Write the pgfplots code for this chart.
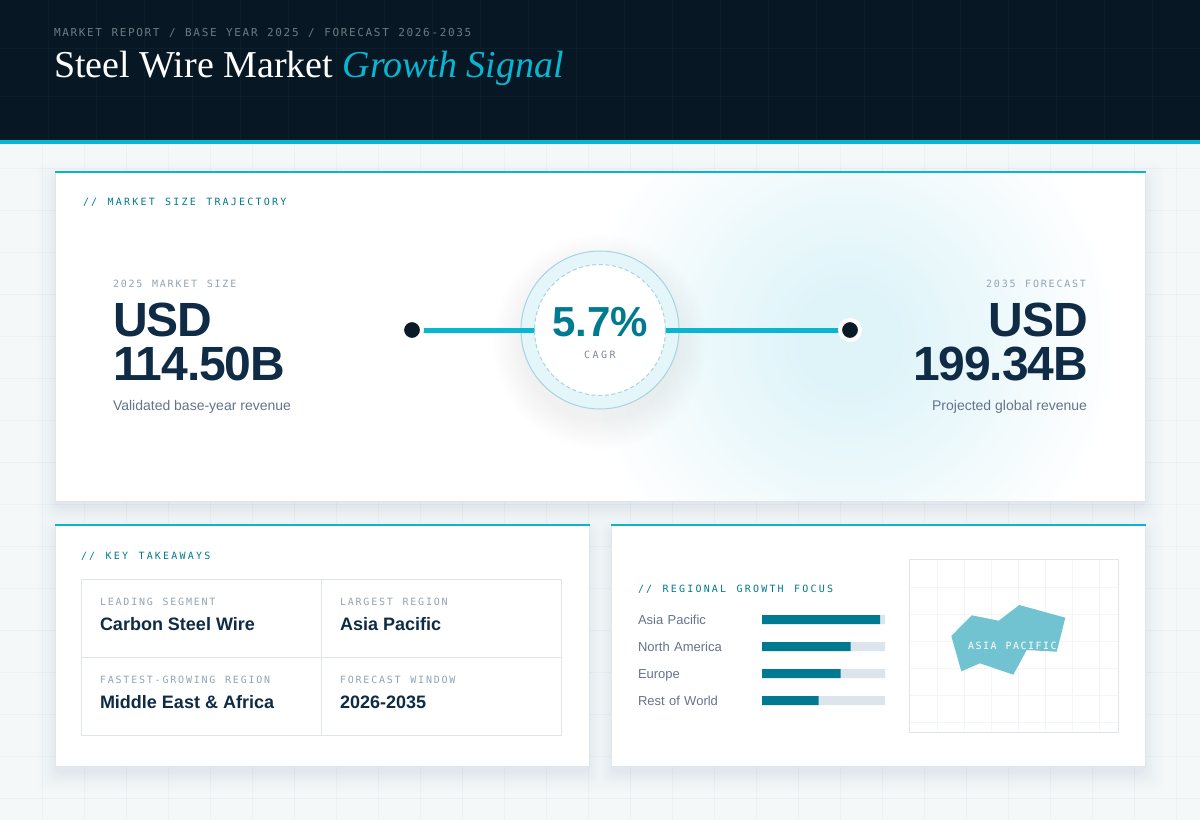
\documentclass[border=0pt]{standalone}
\usepackage{pgfplots}
\pgfplotsset{compat=1.18}
\usepackage{fontspec}
\setmainfont{Liberation Sans}
\newfontfamily\serifx{Liberation Serif}
\newfontfamily\monox{DejaVu Sans Mono}
\definecolor{pagebg}{HTML}{F4F8F9}
\definecolor{headbg}{HTML}{071824}
\definecolor{headgrid}{HTML}{0B1E2B}
\definecolor{cy}{HTML}{08B6D2}
\definecolor{teal}{HTML}{007A90}
\definecolor{navy}{HTML}{0F2B45}
\definecolor{ink}{HTML}{0A1A28}
\definecolor{slate}{HTML}{64748B}
\definecolor{mut}{HTML}{94A3B3}
\definecolor{bord}{HTML}{E0E5E9}
\definecolor{ringc}{HTML}{A8D3DF}
\definecolor{ringf}{HTML}{E4F6FA}
\definecolor{track}{HTML}{DCE5EB}
\definecolor{mapc}{HTML}{72C3D1}
\definecolor{mapgrid}{HTML}{F3F5F7}
\definecolor{shadc}{HTML}{0A2A40}
\definecolor{glowc}{HTML}{DFF4F9}
\definecolor{cardsh}{HTML}{E2E8ED}
% letter spacing in % of the size; ~ is a word space of the same tracking
\newcommand\lab[3][7.5pt]{\monox\fontsize{#1}{9pt}\selectfont\addfontfeature{LetterSpace=#2}\def~{\kern\dimexpr.602em+#2em/50\relax}#3}
\newcommand\bigval[1]{\fontsize{36pt}{36pt}\selectfont\bfseries\addfontfeature{LetterSpace=-2.3}#1}
\begin{document}
\begin{tikzpicture}[x=.75pt,y=-.75pt,every node/.style={inner sep=0pt,outer sep=0pt}]
\path[use as bounding box] (0,0) rectangle (1200,820);
% page
\fill[pagebg] (0,0) rectangle (1200,820);
% card shadows, opaque, outer to inner
\foreach \i in {11,...,0}{
  \pgfmathsetmacro\p{100*(1-\i/12)^2}
  \foreach \a/\b/\c/\d in {55/172/1145/501,55/524/589/766,611/524/1145/766}{
    \fill[cardsh!\p!pagebg,rounded corners=6pt] ({\a-\i*2},{\b+8-\i*2}) rectangle ({\c+\i*2},{\d+8+\i*2});
  }
}
\foreach \v in {42,84,...,1198} \draw[shadc,opacity=.03,line width=.75pt] (\v+.5,144) -- (\v+.5,820);
\foreach \v in {168,210,...,818} \draw[shadc,opacity=.03,line width=.75pt] (0,\v+.5) -- (1200,\v+.5);
% header
\fill[headbg] (0,0) rectangle (1200,140);
\foreach \v in {48,96,...,1198} \draw[headgrid,line width=.75pt] (\v+.5,0) -- (\v+.5,140);
\foreach \v in {48,96} \draw[headgrid,line width=.75pt] (0,\v+.5) -- (1200,\v+.5);
\fill[cy] (0,140) rectangle (1200,144);
\node[anchor=base west,text=white!42!headbg] at (54,37) {\lab[8.25pt]{15}{\def~{\kern.868em\relax}MARKET~REPORT~/~BASE~YEAR~2025~/~FORECAST~2026-2035}};
\node[anchor=base west,text=white] at (54,78) {\serifx\fontsize{28.5pt}{32pt}\selectfont Steel Wire Market \textcolor{cy}{\itshape Growth Signal}};
% cards
\foreach \a/\b/\c/\d in {55/172/1145/501,55/524/589/766,611/524/1145/766}{
  \fill[white] (\a,\b) rectangle (\c,\d);
  \draw[bord,line width=.75pt] (\a,\b) rectangle (\c,\d);
}
% glow
\begin{scope}
\clip (55.5,174) rectangle (1144.5,500.5);
\foreach \i in {45,...,1}{
  \pgfmathsetmacro\t{\i/45}
  \pgfmathsetmacro\p{min(100,100*(1-\t)/.8)}
  \pgfmathsetmacro\r{202.5*\t}
  \fill[glowc!\p!white] (850,340) circle[radius=\r pt];
}
\end{scope}
\foreach \a/\c/\b in {55/1145/172,55/589/524,611/1145/524}{
  \fill[cy] (\a-.5,\b-.5) rectangle (\c+.5,\b+1.5);
}
\node[anchor=base west,text=teal] at (83,205) {\lab{22}{//~MARKET~SIZE~TRAJECTORY}};
\node[anchor=base west,text=mut] at (113,287) {\lab{18}{2025~MARKET~SIZE}};
\node[anchor=base east,text=mut] at (1086,287) {\lab{18}{2035~FORECAST}};
\node[anchor=base west,text=navy] at (113,336) {\bigval{USD}};
\node[anchor=base west,text=navy] at (113,380) {\bigval{114.50B}};
\node[anchor=base east,text=navy] at (1088,336) {\bigval{USD}};
\node[anchor=base east,text=navy] at (1088,380) {\bigval{199.34B}};
\node[anchor=base west,text=slate] at (113,410) {\fontsize{10.5pt}{12pt}\selectfont Validated base-year revenue};
\node[anchor=base east,text=slate] at (1087,410) {\fontsize{10.5pt}{12pt}\selectfont Projected global revenue};
% ring with shadow
\foreach \i in {13,...,0}{\fill[shadc,opacity=.005] (600,342) circle[radius={(79+\i*2.2)*.75pt}];}
\fill[ringf] (600,330) circle[radius=59.25pt];
\draw[ringc,line width=.75pt] (600,330) circle[radius=59.25pt];
% takeaways
\node[anchor=base west,text=teal] at (81,559) {\lab{22}{//~KEY~TAKEAWAYS}};
\draw[bord,line width=.75pt] (81.5,579.5) rectangle (561.5,735.5);
\draw[bord,line width=.75pt] (321.5,579.5) -- (321.5,735.5);
\draw[bord,line width=.75pt] (81.5,657.5) -- (561.5,657.5);
\node[anchor=base west,text=mut] at (100,605) {\lab{18}{LEADING~SEGMENT}};
\node[anchor=base west,text=mut] at (340,605) {\lab{18}{LARGEST~REGION}};
\node[anchor=base west,text=mut] at (100,683) {\lab{18}{FASTEST-GROWING~REGION}};
\node[anchor=base west,text=mut] at (340,683) {\lab{18}{FORECAST~WINDOW}};
\node[anchor=base west,text=navy] at (100,630) {\fontsize{13.5pt}{16pt}\selectfont\bfseries Carbon Steel Wire};
\node[anchor=base west,text=navy] at (340,630) {\fontsize{13.5pt}{16pt}\selectfont\bfseries Asia Pacific};
\node[anchor=base west,text=navy] at (100,708) {\fontsize{13.5pt}{16pt}\selectfont\bfseries Middle East \& Africa};
\node[anchor=base west,text=navy] at (340,708) {\fontsize{13.5pt}{16pt}\selectfont\bfseries 2026-2035};
% map frame
\node[anchor=base west,text=teal] at (638,592) {\lab{22}{//~REGIONAL~GROWTH~FOCUS}};
\fill[white] (909.5,559.5) rectangle (1118.5,732.5);
\foreach \v in {937,964,...,1100} \draw[mapgrid,line width=.75pt] (\v+.5,560) -- (\v+.5,732);
\foreach \v in {587,614,...,723} \draw[mapgrid,line width=.75pt] (910,\v+.5) -- (1118,\v+.5);
\draw[bord,line width=.75pt] (909.5,559.5) rectangle (1118.5,732.5);
% axis in page pixels: trajectory line and map area
\begin{axis}[at={(0pt,-615pt)},anchor=south west,width=900pt,height=615pt,scale only axis,
  xmin=0,xmax=1200,ymin=0,ymax=820,y dir=reverse,hide axis,clip=false]
\addplot[cy,line width=3.75pt,mark=*,mark size=7.5pt,
  mark options={solid,draw=white,fill=ink,line width=3pt}] coordinates {(412,330) (850,330)};
\addplot[draw=none,fill=mapc] coordinates {(951.3,636) (971.7,615.3) (998.7,620.7) (1019.3,605) (1065.3,617.7) (1056.7,651.7) (1026.7,650) (1013.3,674.7) (980,663.3) (961.3,671.3)} --cycle;
\end{axis}
\node[anchor=base west,text=white] at (968,649) {\lab{15}{ASIA~PACIFIC}};
% ring inner
\fill[white] (600,330) circle[radius=49.1pt];
\draw[ringc,line width=.75pt,dash pattern=on 3pt off 2pt] (600,330) circle[radius=49.1pt];
\node[anchor=base west,text=teal] at (552,336) {\fontsize{31.5pt}{32pt}\selectfont\bfseries 5.7\%};
\node[anchor=base west,text=slate!85] at (584,358) {\lab{25}{CAGR}};
% bars
\begin{axis}[at={(571.5pt,-454.5pt)},anchor=north west,width=92.25pt,height=81pt,scale only axis,
  xmin=0,xmax=100,ymin=.5,ymax=4.5,y dir=reverse,xbar,bar width=6.75pt,bar shift=0pt,
  axis line style={draw=none},xtick=\empty,ytick={1,2,3,4},
  yticklabels={Asia Pacific,North America,Europe,Rest of World},
  major tick length=0pt,
  yticklabel style={font=\fontsize{9.75pt}{11pt}\selectfont,text=slate,align=left,text width=93pt,text height=8pt,text depth=2pt,anchor=east,inner sep=0pt,yshift=-.8pt}]
\addplot[draw=none,fill=track] coordinates {(100,1) (100,2) (100,3) (100,4)};
\addplot[draw=none,fill=teal] coordinates {(96,1) (72,2) (64,3) (46,4)};
\end{axis}
\end{tikzpicture}
\end{document}
